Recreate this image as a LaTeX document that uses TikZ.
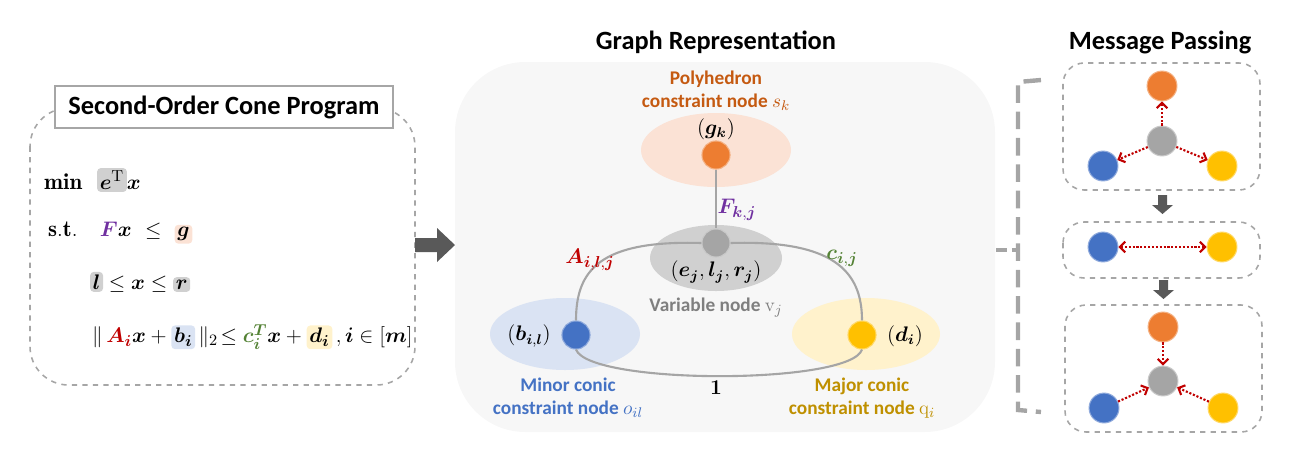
\documentclass[tikz,border=0pt]{standalone}
\usepackage{amsmath,amssymb,bm}
\usepackage{fontspec}
\setsansfont{Carlito}
\usetikzlibrary{arrows.meta}
\definecolor{cor}{HTML}{ED7D31}\definecolor{cgr}{HTML}{A5A5A5}
\definecolor{cbl}{HTML}{4472C4}\definecolor{cye}{HTML}{FFC000}
\definecolor{lor}{HTML}{FBE2D5}\definecolor{lgr}{HTML}{D0D0D0}
\definecolor{lbl}{HTML}{DAE3F3}\definecolor{lye}{HTML}{FFF2CC}
\definecolor{tor}{HTML}{C55A11}\definecolor{tbl}{HTML}{4472C4}
\definecolor{tye}{HTML}{BF9000}\definecolor{tgr}{HTML}{7F7F7F}
\definecolor{mred}{HTML}{C00000}\definecolor{mgreen}{HTML}{548235}\definecolor{mpur}{HTML}{7030A0}
\definecolor{dark}{HTML}{595959}
\tikzset{
 dot/.style={circle,minimum size=16pt,inner sep=0pt,fill=#1,draw=#1!60!white,line width=0.6pt},
 mdot/.style={dot=#1,minimum size=17pt},
 hl/.style={fill=#1,rounded corners=2pt,inner sep=1.5pt},
 edge/.style={draw=cgr,line width=1.2pt},
 msg/.style={draw=mred,densely dotted,line width=1.2pt,-{Straight Barb[length=3pt,width=6pt]}},
 msgb/.style={msg,{Straight Barb[length=3pt,width=6pt]}-{Straight Barb[length=3pt,width=6pt]}},
 dbox/.style={draw=lgr!80!black,dashed,line width=0.9pt,rounded corners=12pt},
 ttl/.style={font=\sffamily\bfseries\fontsize{15}{17}\selectfont},
 lab/.style={font=\sffamily\bfseries\fontsize{11}{13}\selectfont,align=center},
 mth/.style={anchor=west,font=\fontsize{13}{15}\selectfont},
 bigarrow/.style={fill=dark,draw=none},
}
\begin{document}
\begin{tikzpicture}[x=0.02cm,y=-0.02cm]
\useasboundingbox (0,0) rectangle (1311,464);
% left panel
\draw[dbox,rounded corners=22pt] (30,108) rectangle (415,385);
\node[draw=lgr!80!black,fill=white,line width=1pt,minimum width=338*0.02cm,minimum height=42*0.02cm,font=\sffamily\bfseries\fontsize{15}{17}\selectfont] (ttlL) at (224,107) {Second-Order Cone Program};
\node[mth] (l1) at (38,180) {$\mathbf{min}\ \ \tikz[baseline=(a.base)]\node[hl=lgr](a){$\bm e^{\mathrm T}$};\bm x$};
\node[mth] (l2) at (42,233) {$\mathbf{s.t.}\ \ \ {\color{mpur}\bm F}\bm x\ \le\ \tikz[baseline=(a.base)]\node[hl=lor](a){$\bm g$};$};
\node[mth] (l3) at (84,282) {$\tikz[baseline=(a.base)]\node[hl=lgr](a){$\bm l$};\le \bm x\le \tikz[baseline=(a.base)]\node[hl=lgr](a){$\bm r$};$};
\node[mth] (l4) at (86,337) {$\|\,{\color{mred}\bm A_{\bm i}}\bm x+\tikz[baseline=(a.base)]\node[hl=lbl](a){$\bm b_{\bm i}$};\,\|_2\!\le {\color{mgreen}\bm c_{\bm i}^{\bm T}}\bm x+\tikz[baseline=(a.base)]\node[hl=lye](a){$\bm d_{\bm i}$};\,,\bm i\in[\bm m]$};
% big arrow
\fill[bigarrow] (415,238) -- (437,238) -- (437,228) -- (455,245) -- (437,262) -- (437,252) -- (415,252) -- cycle;
% graph panel
\node[ttl] (tG) at (716,42) {Graph Representation};
\fill[black!3,rounded corners=40pt] (455,62) rectangle (995,432);
\fill[lor] (716,150) ellipse [x radius=75,y radius=37];
\fill[lgr] (716,258) ellipse [x radius=66,y radius=33];
\fill[lbl] (565,334) ellipse [x radius=75,y radius=36];
\fill[lye] (866,334) ellipse [x radius=74,y radius=36];
\node[dot=cor] (S) at (716,155) {};
\node[dot=cgr] (V) at (716,243) {};
\node[dot=cbl] (O) at (576,335) {};
\node[dot=cye] (Q) at (862,335) {};
\draw[edge] (S) -- (V);
\draw[edge] (V.west) .. controls (600,240) and (576,270) .. (O.north);
\draw[edge] (V.east) .. controls (832,240) and (862,270) .. (Q.north);
\draw[edge] (O.south) .. controls (590,385) and (850,385) .. (Q.south);
\node[lab,text=tor] (Sl) at (716,91) {Polyhedron\\constraint node $s_k$};
\node[font=\fontsize{12}{14}\selectfont] (Sv) at (716,129) {$(\bm g_{\bm k})$};
\node[font=\fontsize{12}{14}\selectfont] (Vv) at (716,272) {$(\bm e_{\bm j},\bm l_{\bm j},\bm r_{\bm j})$};
\node[lab,text=tgr] (Vl) at (716,308) {Variable node $\mathrm v_j$};
\node[font=\fontsize{12}{14}\selectfont] (Ov) at (529,336) {$(\bm b_{\bm i,\bm l})$};
\node[font=\fontsize{12}{14}\selectfont] (Qv) at (905,336) {$(\bm d_{\bm i})$};
\node[lab,text=tbl] (Ol) at (568,398) {Minor conic\\constraint node $o_{il}$};
\node[lab,text=tye] (Ql) at (862,398) {Major conic\\constraint node $\mathrm q_i$};
\node[font=\fontsize{13}{15}\selectfont,text=mpur] (Fl) at (737,210) {$\bm F_{\bm k,\bm j}$};
\node[font=\fontsize{13}{15}\selectfont,text=mred] (Al) at (590,260) {$\bm A_{\bm i,\bm l,\bm j}$};
\node[font=\fontsize{13}{15}\selectfont,text=mgreen] (Cl) at (842,258) {$\bm c_{\bm i,\bm j}$};
\node[font=\fontsize{13}{15}\selectfont] (one) at (716,388) {$\bm 1$};
% message passing
\node[ttl] (tM) at (1160,42) {Message Passing};
\draw[draw=cgr,line width=2.5pt,dash pattern=on 10pt off 5pt] (1041,80) -- (1018,82) -- (1018,410) -- (1041,412);
\draw[draw=cgr,line width=2.5pt,dash pattern=on 6pt off 3pt] (996,250) -- (1018,250);
\draw[dbox] (1063,63) rectangle (1260,190);
\draw[dbox] (1063,222) rectangle (1260,278);
\draw[dbox] (1065,305) rectangle (1262,432);
\node[mdot=cor] (a1) at (1162,86) {};
\node[mdot=cgr] (v1) at (1162,141) {};
\node[mdot=cbl] (b1) at (1103,166) {};
\node[mdot=cye] (y1) at (1222,166) {};
\draw[msg] (v1) -- (a1);
\draw[msg] (v1) -- (b1);
\draw[msg] (v1) -- (y1);
\node[mdot=cbl] (b2) at (1103,247) {};
\node[mdot=cye] (y2) at (1222,247) {};
\draw[msgb] (b2) -- (y2);
\node[mdot=cor] (a3) at (1163,327) {};
\node[mdot=cgr] (v3) at (1163,381) {};
\node[mdot=cbl] (b3) at (1104,408) {};
\node[mdot=cye] (y3) at (1223,408) {};
\draw[msg] (a3) -- (v3);
\draw[msg] (b3) -- (v3);
\draw[msg] (y3) -- (v3);
\fill[bigarrow] (1158,195) -- (1167,195) -- (1167,205) -- (1173,205) -- (1162.5,214) -- (1152,205) -- (1158,205) -- cycle;
\fill[bigarrow] (1159,280) -- (1168,280) -- (1168,290) -- (1174,290) -- (1163.5,299) -- (1153,290) -- (1159,290) -- cycle;
\end{tikzpicture}
\end{document}
